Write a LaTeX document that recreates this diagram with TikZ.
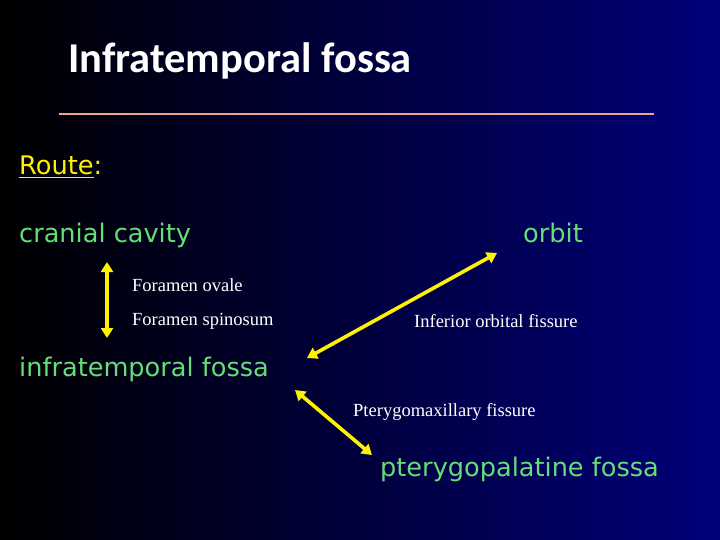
\documentclass[tikz,border=0pt]{standalone}
\usepackage{fontspec}
\setmainfont{Liberation Serif}
\newfontfamily\titlefont{Carlito}
\newfontfamily\placefont{DejaVu Sans}
\usetikzlibrary{arrows.meta}
\definecolor{slideblue}{RGB}{0,0,122}
\definecolor{placegreen}{RGB}{102,221,119}
\definecolor{ruleorange}{RGB}{235,165,140}
\tikzset{
  place/.style={anchor=base west,inner sep=0pt,text=placegreen,font=\placefont\fontsize{25.6}{30}\selectfont},
  passage/.style={anchor=base west,inner sep=0pt,text=white,font=\fontsize{18.5}{22}\selectfont},
  route/.style={draw=yellow,line width=3.6pt,{Triangle[width=12pt,length=10pt]}-{Triangle[width=12pt,length=10pt]}}
}
\begin{document}
\begin{tikzpicture}[x=1pt,y=-1pt]
\shade[left color=black,right color=slideblue] (0,0) rectangle (720,540);
\useasboundingbox (0,0) rectangle (720,540);
\node[anchor=base west,inner sep=0pt,text=white,font=\titlefont\bfseries\fontsize{42.5}{48}\selectfont] (title) at (68,73) {Infratemporal fossa};
\draw[ruleorange,line width=1.3pt] (59,114) -- (654,114);
\node[place,text=yellow] (route) at (19,175) {\underline{Route}:};
% places
\node[place] (cranial) at (19,242) {cranial cavity};
\node[place] (orbit) at (523,242) {orbit};
\node[place] (infra) at (19,376) {infratemporal fossa};
\node[place] (ptery) at (380,476) {pterygopalatine fossa};
% passages
\node[passage] (ovale) at (132,291) {Foramen ovale};
\node[passage] (spinosum) at (132,325) {Foramen spinosum};
\node[passage] (iof) at (414,327) {Inferior orbital fissure};
\node[passage] (pmf) at (353,416) {Pterygomaxillary fissure};
% arrows
\coordinate (cc-end) at (107,262);
\coordinate (it-top) at (107,338);
\coordinate (or-end) at (497,253);
\coordinate (it-right) at (307,358);
\coordinate (it-low) at (295,390);
\coordinate (pp-end) at (372,455);
\draw[route] (cc-end) -- (it-top);
\draw[route] (or-end) -- (it-right);
\draw[route] (it-low) -- (pp-end);
\end{tikzpicture}
\end{document}
